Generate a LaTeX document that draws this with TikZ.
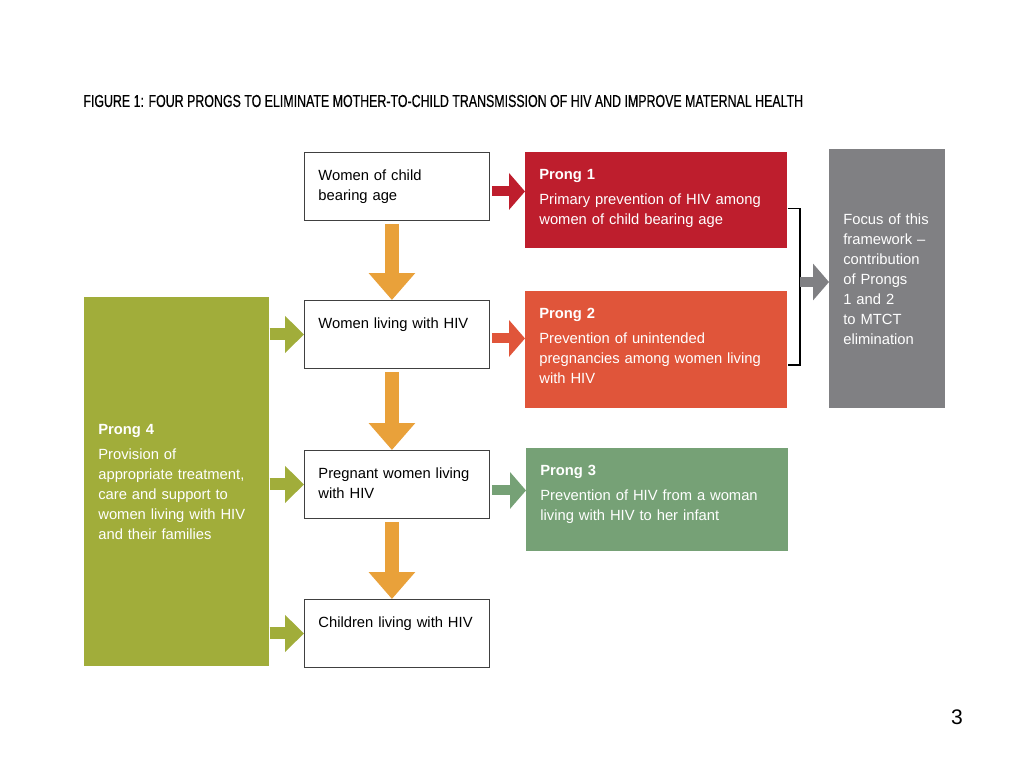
\documentclass[tikz,border=0pt]{standalone}
\usepackage{fontspec}
\setmainfont{Liberation Sans}
\setsansfont{Liberation Sans}
\newfontfamily\condfont[FakeStretch=0.72,FakeBold=0.5]{Liberation Sans}
\usetikzlibrary{arrows.meta}
\newlength\pix
\setlength\pix{0.02cm}
\definecolor{pred}{HTML}{BE1E2D}
\definecolor{porangered}{HTML}{E0553A}
\definecolor{pgreen}{HTML}{76A176}
\definecolor{polive}{HTML}{A1AD3A}
\definecolor{pgray}{HTML}{808083}
\definecolor{porange}{HTML}{E9A13A}
\tikzset{
  boxtext/.style = {font=\fontsize{8.4}{11.4}\selectfont, align=left,
    anchor=north west, inner xsep=14\pix, inner ysep=0pt},
  women/.style = {boxtext, draw=black!75, line width=0.5pt, fill=white,
    text width=157\pix, text height=28\pix, text depth=40\pix},
  prong/.style = {boxtext, text=white, text width=234\pix,
    text height=27\pix, text depth=#1},
  sidebox/.style = {boxtext, text=white, minimum height=#1},
  flow/.style = {line width=2.8mm, draw=porange,
    -{Triangle[width=9mm,length=5.4mm]}},
  feed/.style = {line width=2mm, draw=#1,
    -{Triangle[width=7.2mm,length=3.2mm]}},
  care/.style = {line width=2.4mm, draw=polive,
    -{Triangle[width=7.2mm,length=3.8mm]}}}

\begin{document}
\begin{tikzpicture}[x=1\pix, y=-1\pix]
\useasboundingbox (0,0) rectangle (1024,768);

\node [anchor=west, inner sep=0pt, font=\condfont\fontsize{9.8}{11}\selectfont]
  (title) at (83,101) {FIGURE 1: FOUR PRONGS TO ELIMINATE MOTHER-TO-CHILD TRANSMISSION OF HIV AND IMPROVE MATERNAL HEALTH};

% women column
\node [women] (w1) at (304,152) {Women of child\\bearing age};
\node [women] (w2) at (304,300) {Women living with HIV};
\node [women] (w3) at (304,450) {Pregnant women living\\with HIV};
\node [women] (w4) at (304,599) {Children living with HIV};

% prongs
\node [prong=69\pix, fill=pred] (p1) at (525,152)
  {\textbf{Prong 1}\\[5\pix]Primary prevention of HIV among\\women of child bearing age};
\node [prong=90\pix, fill=porangered] (p2) at (525,291)
  {\textbf{Prong 2}\\[5\pix]Prevention of unintended\\pregnancies among women living\\with HIV};
\node [prong=76\pix, fill=pgreen] (p3) at (526,448)
  {\textbf{Prong 3}\\[5\pix]Prevention of HIV from a woman\\living with HIV to her infant};
\node [sidebox=369\pix, fill=polive, text width=157\pix] (p4) at (84,297)
  {\textbf{Prong 4}\\[5\pix]Provision of\\appropriate treatment,\\care and support to\\women living with HIV\\and their families};
\node [sidebox=259\pix, fill=pgray, text width=88\pix] (focus) at (829,149)
  {Focus of this\\framework --\\contribution\\of Prongs\\1 and 2\\to MTCT\\elimination};

\node [font=\fontsize{12}{14}\selectfont, inner sep=0pt] (page) at (957,717) {3};

% down the column
\draw [flow] ([xshift=-5\pix,yshift=-3\pix]w1.south) -- ([xshift=-5\pix]w2.north);
\draw [flow] ([xshift=-5\pix,yshift=-3\pix]w2.south) -- ([xshift=-5\pix]w3.north);
\draw [flow] ([xshift=-5\pix,yshift=-3\pix]w3.south) -- ([xshift=-5\pix]w4.north);

% to the prongs
\coordinate (a1) at ([xshift=2\pix,yshift=-5\pix]w1.east);
\coordinate (a2) at ([xshift=2\pix,yshift=-4\pix]w2.east);
\coordinate (a3) at ([xshift=2\pix,yshift=-6\pix]w3.east);
\draw [feed=pred] (a1) -- (a1 -| p1.west);
\draw [feed=porangered] (a2) -- (a2 -| p2.west);
\draw [feed=pgreen] (a3) -- (a3 -| p3.west);

% prong 4 care
\draw [care] (p4.east |- w2.west) -- (w2.west);
\draw [care] (p4.east |- w3.west) -- (w3.west);
\draw [care] (p4.east |- w4.west) -- (w4.west);

% bracket to focus
\coordinate (bk) at (800,282);
\draw [line width=0.9pt] ([yshift=-8\pix]p1.east) -| (bk) |- ([yshift=-15\pix]p2.east);
\draw [feed=pgray] (bk) -- (bk -| focus.west);
\end{tikzpicture}
\end{document}
